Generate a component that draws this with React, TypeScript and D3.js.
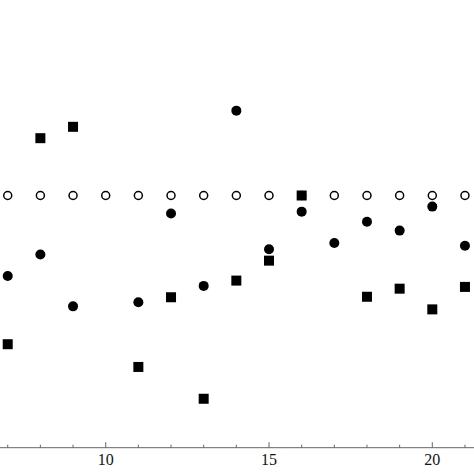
import React from "react";
import * as d3 from "d3";

const xs = [7, 8, 9, 10, 11, 12, 13, 14, 15, 16, 17, 18, 19, 20, 21];
const openValues = [1, 1, 1, 1, 1, 1, 1, 1, 1, 1, 1, 1, 1, 1, 1];
const filledX = [7, 8, 9, 11, 12, 13, 14, 15, 16, 17, 18, 19, 20, 21];
const filledValues = [0.681, 0.766, 0.561, 0.577, 0.929, 0.642, 1.336, 0.787, 0.936, 0.812, 0.896, 0.861, 0.956, 0.801];
const squareX = [7, 8, 9, 11, 12, 13, 14, 15, 16, 18, 19, 20, 21];
const squareValues = [0.411, 1.227, 1.272, 0.321, 0.597, 0.195, 0.663, 0.742, 1.0, 0.599, 0.631, 0.549, 0.638];
const majorTicks = [10, 15, 20];
const minorTicks = [7, 8, 9, 11, 12, 13, 14, 16, 17, 18, 19, 21];

export default function App() {
  const W = 474, H = 474;
  const x = d3.scaleLinear().domain([10, 20]).range([105.7, 432.3]);
  const y = d3.scaleLinear().domain([0, 1]).range([448, 195.5]);
  const axisY = 447.7;
  const s = 10;
  return (
    <svg width={W} height={H} style={{ position: "fixed", left: 0, top: 0, background: "#fff" }}>
      <line x1={0} x2={W} y1={axisY} y2={axisY} stroke="#666" strokeWidth={1} />
      {majorTicks.map((t) => (
        <g key={"M" + t}>
          <line x1={x(t)} x2={x(t)} y1={axisY} y2={axisY - 5.5} stroke="#666" strokeWidth={1} />
          <text x={x(t)} y={465} textAnchor="middle" fontFamily="Liberation Serif, serif" fontSize={16} fill="#111">{t}</text>
        </g>
      ))}
      {minorTicks.map((t) => (
        <line key={"m" + t} x1={x(t)} x2={x(t)} y1={axisY} y2={axisY - 3} stroke="#666" strokeWidth={1} />
      ))}
      {xs.map((v, i) => (
        <circle key={"o" + i} cx={x(v)} cy={y(openValues[i])} r={4} fill="#fff" stroke="#000" strokeWidth={1.5} />
      ))}
      {filledX.map((v, i) => (
        <circle key={"f" + i} cx={x(v)} cy={y(filledValues[i])} r={5} fill="#000" />
      ))}
      {squareX.map((v, i) => (
        <rect key={"s" + i} x={x(v) - s / 2} y={y(squareValues[i]) - s / 2} width={s} height={s} fill="#000" />
      ))}
    </svg>
  );
}
